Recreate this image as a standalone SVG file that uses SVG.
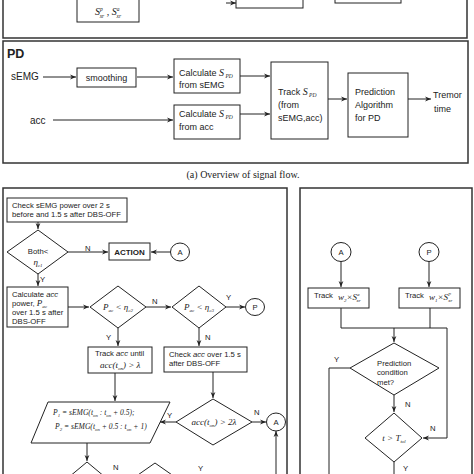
<svg xmlns="http://www.w3.org/2000/svg" width="474" height="474" viewBox="0 0 474 474">
<defs>
<marker id="ah" viewBox="0 0 10 10" refX="10" refY="5" markerWidth="6" markerHeight="6" orient="auto" markerUnits="userSpaceOnUse">
<path d="M0,1 L10,5 L0,9 L3,5 z" fill="#222"/>
</marker>
<style>
.b{fill:#fff;stroke:#222;stroke-width:1}
.l{fill:none;stroke:#222;stroke-width:1}
.a{fill:none;stroke:#222;stroke-width:1;marker-end:url(#ah)}
.p{fill:none;stroke:#333;stroke-width:1.5}
.t{font-family:"Liberation Sans",Arial,sans-serif;font-size:7.7px;fill:#222}
.s{font-family:"Liberation Sans",Arial,sans-serif;font-size:9px;fill:#222}
.m{font-family:"Liberation Serif","Times New Roman",serif;font-style:italic;font-size:9px;fill:#222}
.c{text-anchor:middle}
</style>
</defs>
<rect width="474" height="474" fill="#fff"/>

<!-- top (cut) panel -->
<g id="top-panel">
<path class="p" d="M3,0 V38 H467 V0"/>
<rect class="b" x="77" y="-5" width="62" height="27"/>
<text class="m" x="108" y="15" text-anchor="middle" style="font-size:10px">S<tspan style="font-size:5.5px" dy="-4">p</tspan><tspan style="font-size:5.5px" dx="-3" dy="7">xr</tspan><tspan dy="-3"> , S</tspan><tspan style="font-size:5.5px" dy="-4">a</tspan><tspan style="font-size:5.5px" dx="-3" dy="7">xr</tspan></text>
<rect class="b" x="236" y="-5" width="67" height="13"/>
<line class="a" x1="226" y1="3" x2="236" y2="3"/>
<rect class="b" x="335" y="-5" width="66" height="8"/>
</g>

<!-- PD panel -->
<g id="pd-panel">
<rect class="p" x="3" y="41" width="465" height="122"/>
<text x="7" y="58" font-family="Liberation Sans,Arial,sans-serif" font-weight="bold" font-size="12.5" fill="#222">PD</text>
<text class="s" x="11" y="80" style="font-size:10px">sEMG</text>
<text class="s" x="30" y="124" style="font-size:10px">acc</text>
</g>
<g id="pd-smoothing">
<rect class="b" x="77" y="68" width="59" height="19"/>
<text class="s c" x="106.5" y="81">smoothing</text>
</g>
<g id="pd-calc-semg">
<rect class="b" x="174" y="59" width="66" height="34"/>
<text class="s" x="179" y="76">Calculate <tspan class="m" style="font-size:10px">S</tspan><tspan class="m" style="font-size:5.5px" dy="1.5"> PD</tspan></text>
<text class="s" x="179" y="88">from sEMG</text>
</g>
<g id="pd-calc-acc">
<rect class="b" x="174" y="105" width="66" height="34"/>
<text class="s" x="179" y="117">Calculate <tspan class="m" style="font-size:10px">S</tspan><tspan class="m" style="font-size:5.5px" dy="1.5"> PD</tspan></text>
<text class="s" x="179" y="130">from acc</text>
</g>
<g id="pd-track">
<rect class="b" x="271" y="62" width="57" height="77"/>
<text class="s" x="278" y="95">Track  <tspan class="m" style="font-size:10px">S</tspan><tspan class="m" style="font-size:5.5px" dy="1.5"> PD</tspan></text>
<text class="s" x="278" y="108">(from</text>
<text class="s" x="278" y="121">sEMG,acc)</text>
</g>
<g id="pd-prediction">
<rect class="b" x="348" y="73" width="60" height="64"/>
<text class="s" x="355" y="95">Prediction</text>
<text class="s" x="355" y="108">Algorithm</text>
<text class="s" x="355" y="121">for PD</text>
</g>
<g id="pd-output">
<text class="s" x="433" y="98">Tremor</text>
<text class="s" x="434" y="112">time</text>
</g>
<g id="pd-connectors">
<line class="a" x1="43" y1="77" x2="76" y2="77"/>
<line class="a" x1="137" y1="77" x2="173" y2="77"/>
<line class="a" x1="53" y1="120" x2="173" y2="120"/>
<line class="a" x1="240" y1="76" x2="270" y2="76"/>
<line class="a" x1="240" y1="114" x2="270" y2="114"/>
<line class="a" x1="328" y1="99" x2="347" y2="99"/>
<line class="a" x1="408" y1="99" x2="431" y2="99"/>
</g>

<text x="243" y="178" text-anchor="middle" font-family="Liberation Serif,Times New Roman,serif" font-size="10" fill="#222">(a) Overview of signal flow.</text>

<!-- bottom-left panel -->
<g id="left-panel">
<rect class="p" x="3" y="188" width="284" height="300"/>
</g>
<g id="check-semg">
<rect class="b" x="7" y="198" width="120" height="24"/>
<text class="t" x="12" y="208">Check sEMG power over 2 s</text>
<text class="t" x="12" y="217">before and 1.5 s after DBS-OFF</text>
</g>
<g id="both-dec">
<polygon class="b" points="38,230 68,252 38,274 7,252"/>
<text class="t c" x="38" y="254">Both&lt;</text>
<text class="m c" x="38" y="265">η<tspan style="font-size:5px" dy="1.5">c1</tspan></text>
</g>
<g id="action">
<rect class="b" x="109" y="243" width="41" height="17"/>
<text class="t c" x="129.5" y="255" font-weight="bold" style="font-size:8px">ACTION</text>
</g>
<g id="conn-a1">
<ellipse class="b" cx="180" cy="252" rx="9.5" ry="9"/>
<text class="t c" x="180" y="255">A</text>
</g>
<g id="calc-acc">
<rect class="b" x="7" y="287" width="61" height="40"/>
<text class="t" x="12" y="297">Calculate <tspan font-style="italic">acc</tspan></text>
<text class="t" x="12" y="306">power,  <tspan class="m">P</tspan><tspan class="m" style="font-size:5px" dy="1.5">ac</tspan></text>
<text class="t" x="12" y="315">over 1.5 s after</text>
<text class="t" x="12" y="324">DBS-OFF</text>
</g>
<g id="dec-c2">
<polygon class="b" points="118,286 146,307 118,328 90,307"/>
<text class="m c" x="118" y="310">P<tspan style="font-size:5px" dy="1.5">ac</tspan><tspan dy="-1.5"> &lt; η</tspan><tspan style="font-size:5px" dy="1.5">c2</tspan></text>
</g>
<g id="dec-c3">
<polygon class="b" points="199,286 226,307 199,328 172,307"/>
<text class="m c" x="199" y="310">P<tspan style="font-size:5px" dy="1.5">ac</tspan><tspan dy="-1.5"> &lt; η</tspan><tspan style="font-size:5px" dy="1.5">c3</tspan></text>
</g>
<g id="conn-p1">
<ellipse class="b" cx="255" cy="307" rx="9.5" ry="8.5"/>
<text class="t c" x="255" y="310">P</text>
</g>
<g id="track-acc">
<rect class="b" x="88" y="347" width="64" height="26"/>
<text class="t" x="95" y="356">Track <tspan font-style="italic">acc</tspan> until</text>
<text class="m" x="100" y="368">acc(t<tspan style="font-size:5px" dy="1.5">on</tspan><tspan dy="-1.5">) &gt; λ</tspan></text>
</g>
<g id="check-acc">
<rect class="b" x="164" y="347" width="83" height="25"/>
<text class="t" x="169" y="357">Check <tspan font-style="italic">acc</tspan> over 1.5 s</text>
<text class="t" x="169" y="366">after DBS-OFF</text>
</g>
<g id="dec-2lambda">
<polygon class="b" points="213,399 252,422 213,445 176,422"/>
<text class="m c" x="214" y="425">acc(t<tspan style="font-size:5px" dy="1.5">on</tspan><tspan dy="-1.5">) &gt; 2λ</tspan></text>
</g>
<g id="conn-a2">
<ellipse class="b" cx="276" cy="422" rx="9.5" ry="9"/>
<text class="t c" x="276" y="425">A</text>
</g>
<g id="p-calc">
<polygon class="b" points="48,402 170,402 150,443 31,443"/>
<text class="m" x="53" y="415" style="font-size:7.6px">P<tspan style="font-size:4.8px" dy="1.5">1</tspan><tspan dy="-1.5"> = sEMG(t</tspan><tspan style="font-size:4.8px" dy="1.5">on</tspan><tspan dy="-1.5"> : t</tspan><tspan style="font-size:4.8px" dy="1.5">on</tspan><tspan dy="-1.5"> + 0.5);</tspan></text>
<text class="m" x="55" y="429" style="font-size:7.6px">P<tspan style="font-size:4.8px" dy="1.5">2</tspan><tspan dy="-1.5"> = sEMG(t</tspan><tspan style="font-size:4.8px" dy="1.5">on</tspan><tspan dy="-1.5"> + 0.5 : t</tspan><tspan style="font-size:4.8px" dy="1.5">on</tspan><tspan dy="-1.5"> + 1)</tspan></text>
</g>
<g id="dec-bottom-1">
<polygon class="b" points="87,462 105,477 87,492 69,477"/>
</g>
<g id="dec-bottom-2">
<polygon class="b" points="155,463 175,477 155,491 135,477"/>
</g>

<g id="left-connectors">
<line class="a" x1="38" y1="222" x2="38" y2="229"/>
<line class="a" x1="68" y1="252" x2="108" y2="252"/>
<line class="a" x1="170.5" y1="252" x2="151" y2="252"/>
<line class="a" x1="38" y1="274" x2="38" y2="286"/>
<line class="a" x1="68" y1="307" x2="89" y2="307"/>
<line class="a" x1="146" y1="307" x2="171" y2="307"/>
<line class="a" x1="226" y1="307" x2="245" y2="307"/>
<line class="a" x1="118" y1="328" x2="118" y2="346"/>
<line class="a" x1="199" y1="328" x2="199" y2="346"/>
<line class="a" x1="115" y1="373" x2="115" y2="401"/>
<line class="a" x1="213" y1="372" x2="213" y2="398"/>
<line class="a" x1="176" y1="422" x2="160" y2="422"/>
<line class="a" x1="252" y1="422" x2="266" y2="422"/>
<line class="a" x1="276" y1="476" x2="276" y2="431"/>
<line class="a" x1="87" y1="443" x2="87" y2="461"/>
<text class="t" x="85" y="251">N</text>
<text class="t" x="40" y="282">Y</text>
<text class="t" x="152" y="304">N</text>
<text class="t" x="226" y="300">Y</text>
<text class="t" x="106" y="340">Y</text>
<text class="t" x="205" y="340">N</text>
<text class="t" x="167" y="418">Y</text>
<text class="t" x="254" y="415">N</text>
<text class="t" x="113" y="470">N</text>
<text class="t" x="198" y="471">Y</text>
</g>

<!-- right panel -->
<g id="right-panel">
<rect class="p" x="300" y="188" width="172" height="300"/>
</g>
<g id="conn-a3">
<ellipse class="b" cx="341" cy="252" rx="10" ry="9.5"/>
<text class="t c" x="341" y="255">A</text>
</g>
<g id="conn-p2">
<ellipse class="b" cx="429" cy="252" rx="10" ry="9.5"/>
<text class="t c" x="429" y="255">P</text>
</g>
<g id="track-a">
<rect class="b" x="308" y="288" width="61" height="20"/>
<text class="t" x="314" y="298">Track</text>
<text class="m" x="338" y="300">w<tspan style="font-size:5px" dy="1.5">2</tspan><tspan dy="-1.5">×S</tspan><tspan style="font-size:5px" dy="-4">a</tspan><tspan style="font-size:5px" dx="-3" dy="6">xr</tspan></text>
</g>
<g id="track-p">
<rect class="b" x="399" y="288" width="61" height="20"/>
<text class="t" x="405" y="298">Track</text>
<text class="m" x="429" y="300">w<tspan style="font-size:5px" dy="1.5">1</tspan><tspan dy="-1.5">×S</tspan><tspan style="font-size:5px" dy="-4">P</tspan><tspan style="font-size:5px" dx="-3" dy="6">xr</tspan></text>
</g>
<g id="pred-cond">
<polygon class="b" points="394,343 439,368 394,395 350,368"/>
<text class="t" x="377" y="366">Prediction</text>
<text class="t" x="377" y="375">condition</text>
<text class="t" x="377" y="385">met?</text>
</g>
<g id="t-dec">
<polygon class="b" points="394,413 422,438 394,462 365,438"/>
<text class="m c" x="394" y="441">t &gt; T<tspan style="font-size:5px" dy="1.5">tol</tspan></text>
</g>
<g id="right-connectors">
<line class="a" x1="341" y1="261.5" x2="341" y2="287"/>
<line class="a" x1="429" y1="261.5" x2="429" y2="287"/>
<path class="l" d="M341,308 V328 H447"/>
<path class="l" d="M430,308 V328"/>
<path class="a" d="M447,328 V438 H423"/>
<line class="a" x1="394" y1="328" x2="394" y2="342"/>
<path class="l" d="M350,368 H329 V476"/>
<line class="a" x1="394" y1="395" x2="394" y2="412"/>
<line class="l" x1="394" y1="462" x2="394" y2="476"/>
<text class="t" x="334" y="362">Y</text>
<text class="t" x="405" y="407">N</text>
<text class="t" x="430" y="431">N</text>
<text class="t" x="403" y="471">Y</text>
</g>
</svg>
